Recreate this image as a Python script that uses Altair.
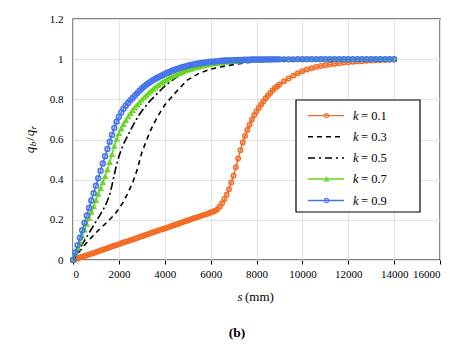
import altair as alt
import pandas as pd

# sample positions (mm) of the marker series
S_MARK = list(range(0, 9001, 100)) + list(range(9200, 14001, 200))

K01 = [0, .004, .008, .012, .016, .020, .024, .028, .031, .035,
       .039, .043, .047, .051, .055, .059, .063, .067, .071, .075,
       .079, .083, .087, .091, .094, .098, .102, .106, .110, .114,
       .118, .122, .126, .130, .134, .138, .142, .146, .150, .153,
       .157, .161, .165, .169, .173, .177, .181, .185, .189, .193,
       .197, .201, .205, .209, .213, .216, .220, .224, .228, .232,
       .236, .240, .245, .253, .266, .283, .302, .325, .352, .386,
       .420, .462, .505, .547, .585, .618, .647, .673, .699, .722,
       .741, .758, .774, .789, .805, .819, .832, .845, .856, .865,
       .874,
       .890, .904, .918, .930, .940, .948, .955, .961, .966, .970,
       .974, .977, .980, .983, .985, .987, .989, .990, .992, .993,
       .994, .995, .996, .997, .998]

K07 = [0, .030, .059, .089, .119, .149, .178, .208, .238, .267,
       .297, .327, .356, .386, .416, .450, .486, .525, .566, .602,
       .630, .654, .675, .695, .713, .730, .745, .759, .772, .785,
       .797, .809, .821, .832, .842, .851, .860, .869, .877, .885,
       .892, .899, .906, .912, .918, .923, .928, .933, .938, .942,
       .946, .950, .953, .957, .960, .963, .966, .968, .971, .973,
       .975, .977, .979, .980, .982, .983, .985, .986, .987, .988,
       .989, .990, .991, .992, .992, .993, .994, .994, .995, .995,
       .996, .996, .996, .997, .997, .997, .997, .998, .998, .998,
       .998,
       .998, .998, .999, .999, .999, .999, .999, 1, 1, 1,
       1, 1, 1, 1, 1, 1, 1, 1, 1, 1,
       1, 1, 1, 1, 1]

K09 = [0, .037, .074, .111, .148, .185, .222, .259, .296, .333,
       .370, .407, .445, .481, .517, .553, .589, .623, .657, .689,
       .713, .735, .753, .768, .782, .795, .807, .819, .831, .843,
       .854, .864, .873, .881, .889, .896, .903, .909, .915, .920,
       .926, .931, .936, .941, .946, .950, .954, .958, .961, .964,
       .967, .970, .973, .975, .977, .979, .981, .983, .984, .986,
       .987, .988, .989, .990, .991, .992, .993, .993, .994, .994,
       .995, .995, .996, .996, .996, .997, .997, .997, .998, .998,
       .998, .998, .998, .998, .999, .999, .999, .999, .999, .999,
       .999,
       .999, .999, .999, 1, 1, 1, 1, 1, 1, 1,
       1, 1, 1, 1, 1, 1, 1, 1, 1, 1,
       1, 1, 1, 1, 1]

S_K03 = [0, 300, 600, 900, 1200, 1500, 1800, 2000, 2200, 2400, 2600, 2800,
         3000, 3200, 3400, 3600, 3800, 4000, 4300, 4600, 5000, 5500, 6000,
         6500, 7000, 7500, 8000, 9000, 10000, 12000, 14000]
K03 = [0, .045, .087, .124, .158, .190, .225, .255, .290, .335, .385, .450,
       .535, .595, .650, .695, .735, .772, .812, .850, .897, .930, .950,
       .963, .973, .982, .988, .995, .998, .999, 1.0]

S_K05 = [0, 300, 600, 900, 1200, 1400, 1500, 1600, 1700, 1800, 1900, 2000,
         2100, 2200, 2400, 2600, 2800, 3000, 3300, 3600, 4000, 4500, 5000,
         5500, 6000, 7000, 8000, 9000, 10000, 12000, 14000]
K05 = [0, .058, .116, .172, .228, .268, .295, .325, .372, .425, .475, .515,
       .548, .577, .622, .667, .708, .742, .785, .820, .866, .910, .940,
       .958, .970, .984, .992, .996, .998, .999, 1.0]

LEGEND = ["0.1", "0.3", "0.5", "0.7", "0.9"]
ORANGE, GREEN, BLUE = "#F36C24", "#66D61E", "#4473EC"
FONT = "Liberation Serif"

W, H = 367, 241
XS = alt.Scale(domain=[0, 16000], nice=False)
YS = alt.Scale(domain=[0, 1.2], nice=False)
XAX = alt.Axis(values=list(range(0, 16001, 2000)), format="d", title=None,
               domain=False, ticks=True, tickSize=4, tickColor="black",
               labelPadding=4, grid=True)
YAX = alt.Axis(values=[0, 0.2, 0.4, 0.6, 0.8, 1.0, 1.2],
               labelExpr="format(datum.value, '~g')", title=None,
               domain=False, ticks=False, labelPadding=10, grid=True)


def enc(chart):
    return chart.encode(x=alt.X("s:Q", scale=XS, axis=XAX),
                        y=alt.Y("v:Q", scale=YS, axis=YAX))


def df(s, v):
    return pd.DataFrame({"s": s, "v": v})


layers = []
# k = 0.1
layers.append(enc(alt.Chart(df(S_MARK, K01)).mark_line(color=ORANGE, strokeWidth=1.5)))
layers.append(enc(alt.Chart(df(S_MARK, K01)).mark_point(
    shape="circle", filled=False, color=ORANGE, size=20, strokeWidth=1.5, opacity=1)))
# k = 0.3
layers.append(enc(alt.Chart(df(S_K03, K03)).mark_line(
    color="black", strokeWidth=1.6, strokeDash=[5, 4])))
# k = 0.5
layers.append(enc(alt.Chart(df(S_K05, K05)).mark_line(
    color="black", strokeWidth=1.6, strokeDash=[8, 3, 2, 3])))
# k = 0.7
layers.append(enc(alt.Chart(df(S_MARK, K07)).mark_line(color=GREEN, strokeWidth=1.5)))
layers.append(enc(alt.Chart(df(S_MARK, K07)).mark_point(
    shape="triangle-up", filled=False, color=GREEN, size=18, strokeWidth=1.4, opacity=1)))
# k = 0.9
layers.append(enc(alt.Chart(df(S_MARK, K09)).mark_line(color=BLUE, strokeWidth=1.5)))
layers.append(enc(alt.Chart(df(S_MARK, K09)).mark_point(
    shape="circle", filled=False, color=BLUE, size=24, strokeWidth=1.5, opacity=1)))

one = pd.DataFrame({"a": [0]})

# legend box
layers.append(alt.Chart(one).mark_rect(fill="white", stroke="black", strokeWidth=1.2).encode(
    x=alt.value(223), x2=alt.value(347), y=alt.value(81), y2=alt.value(193)))

rows_y = [96.7, 117.7, 139.0, 160.0, 181.5]
styles = [
    dict(color=ORANGE, dash=None, shape="circle"),
    dict(color="black", dash=[5, 4], shape=None),
    dict(color="black", dash=[7, 4, 2, 4], shape=None),
    dict(color=GREEN, dash=None, shape="triangle-up"),
    dict(color=BLUE, dash=None, shape="circle"),
]
for lab, yy, st in zip(LEGEND, rows_y, styles):
    kw = dict(color=st["color"], strokeWidth=1.6 if st["dash"] else 1.3)
    if st["dash"]:
        kw["strokeDash"] = st["dash"]
    layers.append(alt.Chart(one).mark_rule(**kw).encode(
        x=alt.value(235), x2=alt.value(271), y=alt.value(yy)))
    if st["shape"]:
        layers.append(alt.Chart(one).mark_point(
            shape=st["shape"], filled=False, color=st["color"], size=18,
            strokeWidth=1.1, opacity=1).encode(x=alt.value(253.5), y=alt.value(yy)))
    layers.append(alt.Chart(one).mark_text(
        text="k", font=FONT, fontStyle="italic", fontSize=12.5, align="left",
        baseline="middle", color="black").encode(x=alt.value(280), y=alt.value(yy)))
    layers.append(alt.Chart(one).mark_text(
        text="= " + lab, font=FONT, fontSize=12.5, align="left",
        baseline="middle", color="black").encode(x=alt.value(288), y=alt.value(yy)))

# y-axis title  q_b / q_r (rotated)
ytitle = [("q", 13, "italic", -43, 131), ("b", 9, "italic", -40, 125),
          ("/", 13, "normal", -43, 120), ("q", 13, "italic", -43, 114),
          ("r", 9, "italic", -40, 108.5)]
for t, fs, sty, xx, yy in ytitle:
    layers.append(alt.Chart(one).mark_text(
        text=t, font=FONT, fontSize=fs, fontStyle=sty, angle=270, align="center",
        baseline="middle", color="black").encode(x=alt.value(xx), y=alt.value(yy)))

# x-axis title  s (mm)
layers.append(alt.Chart(one).mark_text(
    text="s", font=FONT, fontSize=13, fontStyle="italic", align="center",
    baseline="middle", color="black").encode(x=alt.value(167), y=alt.value(278)))
layers.append(alt.Chart(one).mark_text(
    text="(mm)", font=FONT, fontSize=13, align="left",
    baseline="middle", color="black").encode(x=alt.value(172), y=alt.value(278)))
# caption
layers.append(alt.Chart(one).mark_text(
    text="(b)", font=FONT, fontSize=13.5, fontWeight="bold", align="center",
    baseline="middle", color="black").encode(x=alt.value(164), y=alt.value(314)))

chart = alt.layer(*layers).properties(
    width=W, height=H,
    autosize=alt.AutoSizeParams(type="none"),
    padding={"left": 73, "top": 19, "right": 34, "bottom": 84},
    background="white",
).configure_view(stroke="black", strokeWidth=1.3).configure_axis(
    labelFont=FONT, labelFontSize=11, labelColor="black",
    gridColor="#e2e2e2", gridWidth=1,
)

chart.save("out.html", embed_options={"renderer": "svg", "actions": False})
